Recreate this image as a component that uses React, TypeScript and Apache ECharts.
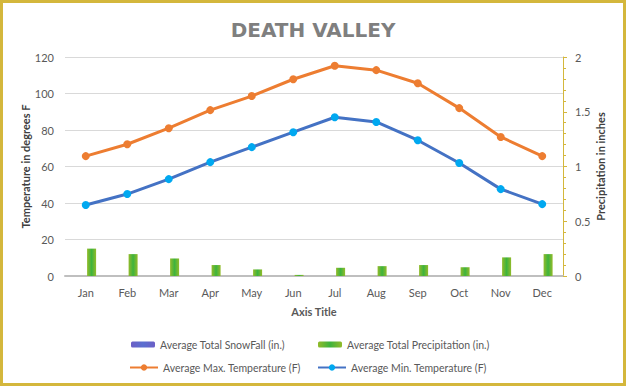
import React, { useEffect, useRef } from "react";
import * as echarts from "echarts";

const months = ["Jan", "Feb", "Mar", "Apr", "May", "Jun", "Jul", "Aug", "Sep", "Oct", "Nov", "Dec"];
const snowFall = [0, 0, 0, 0, 0, 0, 0, 0, 0, 0, 0, 0];
const precipitation = [0.25, 0.2, 0.16, 0.1, 0.06, 0.01, 0.075, 0.09, 0.1, 0.08, 0.17, 0.2];
const maxTemp = [65.7, 72.2, 81, 90.9, 98.6, 107.8, 115.2, 112.8, 105.6, 92, 76.2, 65.7];
const minTemp = [38.9, 44.9, 53.1, 62.4, 70.6, 78.8, 87, 84.4, 74.4, 61.9, 47.6, 39.4];

const SNOW = "Average Total SnowFall (in.)";
const PRECIP = "Average Total Precipitation (in.)";
const MAXT = "Average Max. Temperature (F)";
const MINT = "Average Min. Temperature (F)";

const FONT = "Lato";
const GOLD = "#D4B73C";

export default function App() {
  const ref = useRef<HTMLDivElement>(null);
  useEffect(() => {
    document.body.style.margin = "0";
    const chart = echarts.init(ref.current!, undefined, { renderer: "svg" });
    const greenGrad = new echarts.graphic.LinearGradient(0, 0, 1, 0, [
      { offset: 0, color: "#92BB2A" },
      { offset: 0.5, color: "#3DB33D" },
      { offset: 1, color: "#92BB2A" },
    ]);
    const purpleGrad = new echarts.graphic.LinearGradient(0, 0, 1, 0, [
      { offset: 0, color: "#6C5FC6" },
      { offset: 0.5, color: "#5A6FD0" },
      { offset: 1, color: "#6C5FC6" },
    ]);
    const legendText = { color: "#595959", fontSize: 10.5, fontFamily: FONT };
    const mkLegend = (name: string, left: number, top: number, line: boolean) => ({
      data: [name],
      left,
      top,
      itemWidth: line ? 28 : 24,
      itemHeight: line ? 8 : 6,
      itemGap: 4,
      textStyle: legendText,
      selectedMode: false,
      padding: 0,
    });
    chart.setOption({
      animation: false,
      textStyle: { fontFamily: FONT },
      title: {
        text: "DEATH VALLEY",
        left: "center",
        top: 15,
        textStyle: { color: "#7F7F7F", fontSize: 20, fontWeight: "bold", fontFamily: "DejaVu Sans" },
      },
      legend: [
        mkLegend(SNOW, 131, 339, false),
        mkLegend(PRECIP, 318, 339, false),
        mkLegend(MAXT, 129, 362, true),
        mkLegend(MINT, 317, 362, true),
      ],
      grid: { left: 65, right: 63, top: 57, bottom: 110, containLabel: false },
      xAxis: {
        type: "category",
        data: months,
        name: "Axis Title",
        nameLocation: "middle",
        nameGap: 30,
        nameMoveOverlap: false,
        nameTextStyle: { color: "#595959", fontSize: 11, fontWeight: "bold", fontFamily: FONT },
        axisLine: { lineStyle: { color: "#BFBFBF", width: 2 } },
        axisTick: { show: false },
        axisLabel: { color: "#595959", fontSize: 11, margin: 11, fontFamily: FONT },
      },
      yAxis: [
        {
          type: "value",
          min: 0,
          max: 120,
          interval: 20,
          name: "Temperature in degrees F",
          nameLocation: "middle",
          nameGap: 34,
          nameMoveOverlap: false,
          nameRotate: 90,
          nameTextStyle: { color: "#404040", fontSize: 11, fontWeight: "bold", fontFamily: FONT },
          axisLine: { show: false },
          axisTick: { show: false },
          axisLabel: { color: "#595959", fontSize: 11, margin: 11, fontFamily: FONT },
          splitLine: { lineStyle: { color: "#D9D9D9", width: 1 } },
        },
        {
          type: "value",
          min: 0,
          max: 2,
          interval: 0.5,
          name: "Precipitation in inches",
          nameLocation: "middle",
          nameGap: 32,
          nameMoveOverlap: false,
          nameRotate: 90,
          nameTextStyle: { color: "#404040", fontSize: 11, fontWeight: "bold", fontFamily: FONT },
          axisLine: { show: true, lineStyle: { color: GOLD, width: 1 } },
          axisTick: { show: true, length: 4, lineStyle: { color: GOLD } },
          minorTick: { show: true, splitNumber: 5, length: 3, lineStyle: { color: GOLD } },
          axisLabel: { color: "#595959", fontSize: 11, margin: 12, fontFamily: FONT },
          splitLine: { show: false },
        },
      ],
      series: [
        {
          name: SNOW,
          type: "bar",
          yAxisIndex: 1,
          data: snowFall,
          barWidth: 9,
          barGap: "30%",
          itemStyle: { color: purpleGrad },
        },
        {
          name: PRECIP,
          type: "bar",
          yAxisIndex: 1,
          data: precipitation,
          barWidth: 9,
          barGap: "30%",
          itemStyle: { color: greenGrad },
        },
        {
          name: MAXT,
          type: "line",
          yAxisIndex: 0,
          data: maxTemp,
          symbol: "circle",
          symbolSize: 8,
          lineStyle: { color: "#ED7D31", width: 3 },
          itemStyle: { color: "#ED7D31" },
        },
        {
          name: MINT,
          type: "line",
          yAxisIndex: 0,
          data: minTemp,
          symbol: "circle",
          symbolSize: 8,
          lineStyle: { color: "#4472C4", width: 3 },
          itemStyle: { color: "#00A8F0" },
        },
      ],
    });
    return () => chart.dispose();
  }, []);
  return (
    <div style={{ position: "relative", width: 626, height: 386, background: "#fff" }}>
      <div ref={ref} style={{ position: "absolute", left: 0, top: 0, width: 626, height: 386 }} />
      <div
        style={{
          position: "absolute",
          left: 0,
          top: 0,
          width: 626,
          height: 386,
          border: `3px solid ${GOLD}`,
          boxSizing: "border-box",
          pointerEvents: "none",
        }}
      />
    </div>
  );
}
